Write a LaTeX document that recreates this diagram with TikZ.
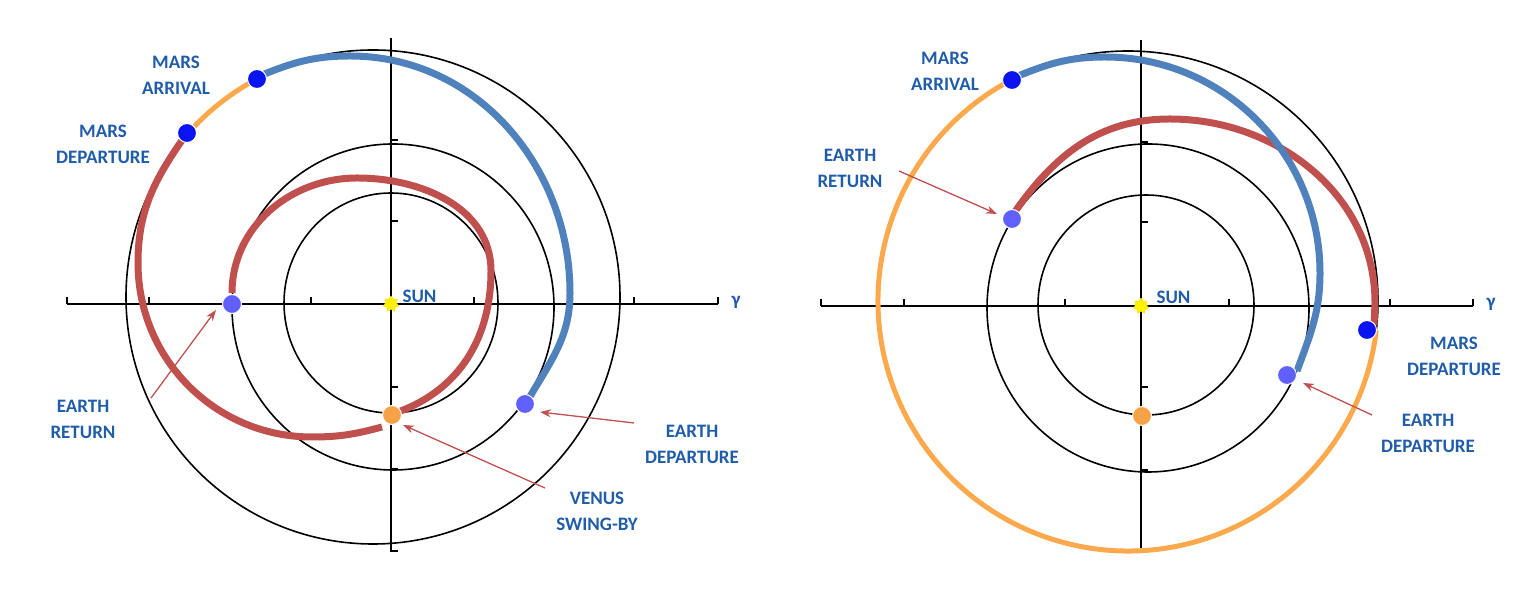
\documentclass[tikz,border=0pt]{standalone}
\usepackage{fontspec}
\setmainfont{Carlito}
\usetikzlibrary{arrows.meta,shapes.geometric}
\definecolor{lbl}{HTML}{1F5CAA}
\definecolor{tblue}{HTML}{4F81BD}
\definecolor{tred}{HTML}{C0504D}
\definecolor{torange}{HTML}{FBA94C}
\definecolor{mdot}{HTML}{0A14F0}
\definecolor{edot}{HTML}{6060FF}
\definecolor{vdot}{HTML}{F6A348}
\begin{document}
\begin{tikzpicture}[x=1pt,y=1pt,
  orbit/.style={line width=1.6pt,black},
  ax/.style={line width=1.8pt,black},
  tick/.style={line width=1.4pt,black},
  blueT/.style={line width=7pt,tblue},
  redT/.style={line width=7pt,tred},
  orT/.style={line width=5pt,torange},
  dot/.style={circle,draw=white,line width=1pt,inner sep=0pt,minimum size=19pt},
  lab/.style={text=lbl,font=\fontsize{19}{26}\selectfont\bfseries,align=center},
  arr/.style={tred,line width=1.3pt,-{Stealth[length=11pt,width=8pt]}}]
\useasboundingbox (0,0) rectangle (1536,593);
%% ---------- LEFT ----------
\draw[orbit] (391,290) ellipse[x radius=107,y radius=110];
\draw[orbit] (393,286) ellipse[x radius=161,y radius=163];
\draw[orbit] (373,296) circle[radius=247];
\draw[ax] (67,289) -- (718,289);
\draw[ax] (391,555) -- (391,41);
\foreach \x in {67,149,311,474,634,718} \draw[tick] (\x,289) -- (\x,296);
\foreach \y in {534,453,372,206,124,42} \draw[tick] (391,\y) -- (398,\y);
\draw[orT] (373,296) ++(118:247) arc[start angle=118,end angle=138.6,radius=247];
\draw[blueT] (262,518) to[out=22,in=180] (350,537) to[out=0,in=90] (570,300) to[out=-90,in=60] (528,193);
\draw[redT] (185,457) to[out=-125,in=90] (138,330) to[out=-90,in=180] (312,156) to[out=0,in=195] (382,166);
\draw[redT] (232,300) to[out=90,in=180] (357,415) to[out=0,in=90] (491,322) to[out=-90,in=20] (398,181);
\node[star,star points=7,fill=yellow,draw=yellow!80!orange,inner sep=0pt,minimum size=16pt] (sunL) at (391,289) {};
\node[dot,fill=mdot] (mdL) at (187,460) {};
\node[dot,fill=mdot] (maL) at (257,514) {};
\node[dot,fill=edot] (erL) at (232,289) {};
\node[dot,fill=edot] (edL) at (525,189) {};
\node[dot,fill=vdot] (vsL) at (392,178) {};
\node[lab] (tmaL) at (176,518) {MARS\\ARRIVAL};
\node[lab] (tmdL) at (103,449) {MARS\\DEPARTURE};
\node[lab] (terL) at (83,174) {EARTH\\RETURN};
\node[lab] (tedL) at (692,149) {EARTH\\DEPARTURE};
\node[lab] (tvsL) at (597,82) {VENUS\\SWING-BY};
\node[lab,anchor=west] (tsunL) at (399,297) {SUN};
\node[lab] (gL) at (736,291) {γ};
\coordinate (aerL) at (151,195);
\coordinate (aedL) at (634,170);
\coordinate (avsL) at (545,105);
\draw[arr] (aerL) -- (216,283);
\draw[arr] (aedL) -- (540,181);
\draw[arr] (avsL) -- (403,168);
%% ---------- RIGHT ----------
\draw[orbit] (1146,288) ellipse[x radius=108,y radius=110];
\draw[orbit] (1148,285) ellipse[x radius=161,y radius=164];
\draw[orbit] (1128,292) circle[radius=250];
\draw[ax] (821,287) -- (1473,287);
\draw[ax] (1141,553) -- (1141,40);
\foreach \x in {821,904,1065,1229,1390,1473} \draw[tick] (\x,287) -- (\x,294);
\foreach \y in {534,451,371,206,123,42} \draw[tick] (1141,\y) -- (1148,\y);
\draw[orT] (1128,292) ++(117.7:250) arc[start angle=117.7,end angle=353.25,radius=250];
\draw[redT] (1014,380) to[out=55,in=180] (1170,474) to[out=0,in=90] (1375,290) -- (1374,268);
\draw[blueT] (1018,517) to[out=22,in=180] (1105,536) to[out=0,in=90] (1320,320) to[out=-90,in=70] (1297,222);
\node[star,star points=7,fill=yellow,draw=yellow!80!orange,inner sep=0pt,minimum size=16pt] (sunR) at (1141,287) {};
\node[dot,fill=mdot] (mdR) at (1367,263) {};
\node[dot,fill=mdot] (maR) at (1012,513) {};
\node[dot,fill=edot] (erR) at (1012,374) {};
\node[dot,fill=edot] (edR) at (1287,218) {};
\node[dot,fill=vdot] (vsR) at (1142,177) {};
\node[lab] (tmaR) at (945,522) {MARS\\ARRIVAL};
\node[lab] (terR) at (850,425) {EARTH\\RETURN};
\node[lab] (tmdR) at (1454,237) {MARS\\DEPARTURE};
\node[lab] (tedR) at (1428,160) {EARTH\\DEPARTURE};
\node[lab,anchor=west] (tsunR) at (1153,296) {SUN};
\node[lab] (gR) at (1491,289) {γ};
\coordinate (aerR) at (899,422);
\coordinate (aedR) at (1372,178);
\draw[arr] (aerR) -- (997,379);
\draw[arr] (aedR) -- (1303,210);
\end{tikzpicture}
\end{document}
